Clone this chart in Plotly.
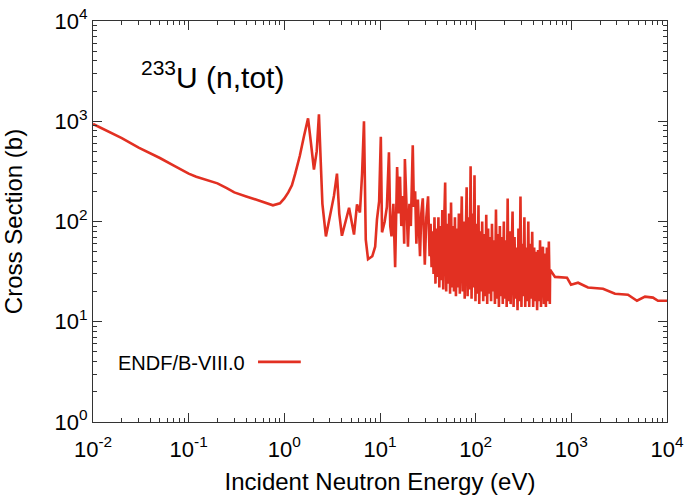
import plotly.graph_objects as go

# 233U total cross section, ENDF/B-VIII.0
# smooth thermal part + first resolved resonances
energy_low = [0.01, 0.02, 0.03, 0.05, 0.07, 0.1, 0.12, 0.15, 0.2, 0.25, 0.3, 0.4, 0.5,
              0.6, 0.76, 0.9, 1.0, 1.1, 1.2, 1.3, 1.45, 1.6,
              1.77, 1.9, 2.04, 2.18, 2.30, 2.4, 2.5, 2.72, 3.0, 3.3, 3.55, 3.75, 4.0,
              4.4, 4.75, 5.35, 5.75, 6.17, 6.5, 6.8, 7.1, 7.5, 8.3, 8.9, 9.3, 9.8,
              10.2, 10.5, 11.2, 11.8, 12.4, 12.8, 13.2, 13.8, 14.4]
xs_low = [940, 680, 545, 430, 360, 300, 280, 260, 240, 215, 195, 178, 165,
          155, 145, 152, 170, 195, 230, 300, 450, 700,
          1070, 600, 330, 500, 1170, 400, 150, 71, 110, 180, 300, 120, 72,
          100, 137, 74, 148, 123, 300, 1000, 66, 42, 45, 56, 105, 160,
          700, 78, 100, 140, 490, 90, 71, 150, 35]

# resolved resonance region, 15 eV - 600 eV
energy_rrr = [15.1, 15.6, 16.2, 16.7, 17.4, 17.9, 18.2, 19.0, 19.6, 20.3, 21.0, 22.0,
              22.6, 23.3, 24.0, 24.9, 26.2, 27.0, 28.0, 29.4, 30.5, 31.8, 33.0,
              33.8, 34.6, 35.4, 36.3, 37.1, 38.0, 38.9, 39.8, 40.8, 41.7, 42.7, 43.7,
              44.8, 45.8, 46.9, 48.0, 49.2, 50.3, 51.5, 52.8, 54.0, 55.3, 56.6, 58.0,
              59.3, 60.7, 62.2, 63.7, 65.2, 66.7, 68.3, 69.9, 71.6, 73.3, 75.0, 76.8,
              78.7, 80.5, 82.4, 84.4, 86.4, 88.5, 90.6, 92.7, 94.9, 97.2, 99.5, 102,
              104, 107, 109, 112, 114, 117, 120, 123, 126, 129, 132, 135, 138, 141,
              145, 148, 152, 155, 159, 163, 167, 171, 175, 179, 183, 188, 192, 197,
              201, 206, 211, 216, 221, 227, 232, 238, 243, 249, 255, 261, 267, 274,
              280, 287, 294, 301, 308, 315, 323, 330, 338, 346, 355, 363, 372, 381,
              390, 399, 409, 418, 428, 439, 449, 460, 471, 482, 494, 505, 517, 530,
              542, 555, 568, 582, 596]
xs_rrr = [350, 120, 280, 90, 180, 60, 420, 100, 56, 150, 90, 575,
          140, 200, 60, 166, 45, 120, 170, 37, 110, 178, 45,
          95, 35, 80, 30, 110, 24, 85, 28, 110, 22, 90, 26,
          130, 21, 100, 245, 20, 95, 24, 120, 19, 155, 22, 90,
          20, 110, 18, 85, 22, 120, 19, 95, 178, 20, 100, 17,
          130, 219, 18, 110, 21, 355, 17, 120, 22, 290, 16, 95,
          19, 145, 15, 80, 20, 100, 16, 75, 18, 117, 15, 85, 19, 70,
          16, 95, 20, 65, 15, 132, 17, 75, 14, 90, 18, 70, 15, 100,
          17, 65, 14, 170, 16, 80, 15, 60, 126, 14, 70, 17, 55, 13,
          85, 16, 178, 14, 60, 18, 110, 14, 55, 16, 100, 14, 60, 17,
          79, 14, 55, 16, 50, 13, 52, 16, 65, 14, 50, 56, 15, 48,
          14, 55, 16, 63, 15]

# unresolved / smooth part above 600 eV
energy_high = [600, 675, 901, 992, 1175, 1493, 2143, 2860, 3910, 4855, 5890, 7130, 8050, 10000]
xs_high = [33, 28, 27.5, 23.4, 24.5, 22, 21.3, 19, 18.6, 16.2, 17.8, 17.4, 16.2, 16.2]

energy = energy_low + energy_rrr + energy_high
xs = xs_low + xs_rrr + xs_high

x_decades = [-2, -1, 0, 1, 2, 3, 4]
y_decades = [0, 1, 2, 3, 4]

red = 'rgb(226,48,34)'

fig = go.Figure()
fig.add_trace(go.Scatter(x=energy, y=xs, mode='lines', name='ENDF/B-VIII.0',
                         line=dict(color=red, width=2.6), showlegend=False))

def axis_style(decades):
    return dict(
        type='log',
        range=[decades[0], decades[-1]],
        tickmode='array',
        tickvals=[10.0 ** d for d in decades],
        ticktext=['10<sup>%d</sup>' % d for d in decades],
        ticks='inside', ticklen=9, tickwidth=1, tickcolor='#333',
        minor=dict(ticks='inside', ticklen=4, tickwidth=1, tickcolor='#333',
                   tickmode='array',
                   tickvals=[k * 10.0 ** d for d in decades[:-1] for k in range(2, 10)]),
        showline=True, linecolor='#333', linewidth=1.2, mirror='allticks',
        showgrid=False, zeroline=False, automargin=False,
        tickfont=dict(size=22, color='black'),
    )

xaxis = axis_style(x_decades)
xaxis['ticklabelstandoff'] = 7
xaxis['title'] = dict(text='Incident Neutron Energy (eV)', font=dict(size=24, color='black'), standoff=12)
yaxis = axis_style(y_decades)
yaxis['title'] = dict(text='Cross Section (b)', font=dict(size=24, color='black'), standoff=33)

fig.update_layout(
    width=685, height=496,
    margin=dict(l=93, r=18, t=21, b=74),
    paper_bgcolor='white', plot_bgcolor='white',
    font=dict(family='Liberation Sans, Arial, Helvetica, sans-serif', color='black'),
    xaxis=xaxis, yaxis=yaxis,
    showlegend=False,
)

# title inside the frame
fig.add_annotation(x=0.08, y=0.865, xref='paper', yref='paper', xanchor='left', yanchor='middle',
                   text='<sup>233</sup>U (n,tot)', showarrow=False, font=dict(size=30, color='black'))

# legend entry: text followed by line sample
fig.add_annotation(x=0.268, y=0.148, xref='paper', yref='paper', xanchor='right', yanchor='middle',
                   text='ENDF/B-VIII.0', showarrow=False, font=dict(size=20, color='black'))
fig.add_shape(type='line', xref='paper', yref='paper', x0=0.2875, x1=0.362, y0=0.150, y1=0.150,
              line=dict(color=red, width=2.6))

# drop the default 8px page margin so the figure fills the window
fig.write_html('out.html', config={'displayModeBar': False},
               post_script="document.body.style.margin='0';")
